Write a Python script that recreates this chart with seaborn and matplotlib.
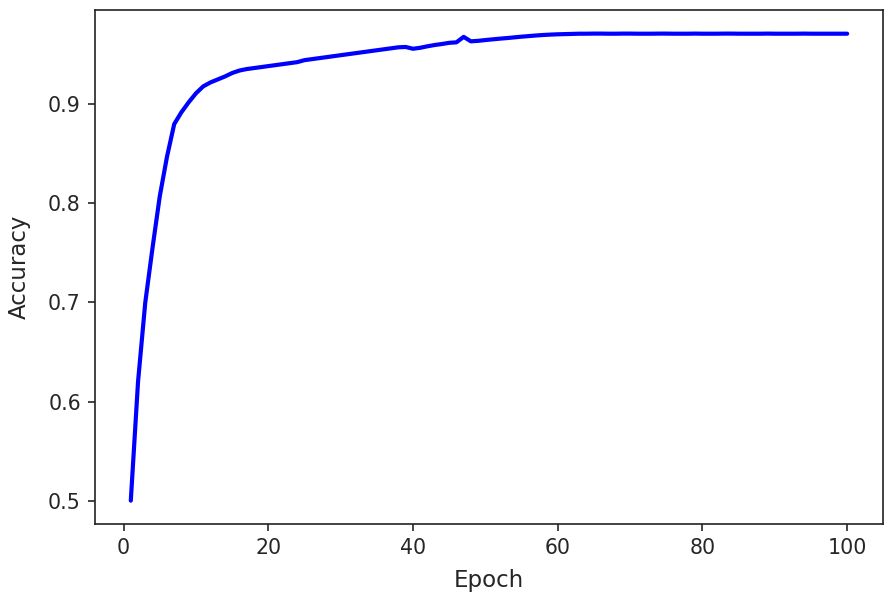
import numpy as np
import pandas as pd
import matplotlib
matplotlib.use('Agg')
import matplotlib.pyplot as plt
import seaborn as sns

# Accuracy per epoch
epochs = list(range(1, 101))
accuracy = [
    0.500, 0.620, 0.700, 0.755, 0.807, 0.847, 0.880, 0.892, 0.902, 0.911,
    0.918, 0.922, 0.925, 0.928, 0.9315, 0.934, 0.9355, 0.9365, 0.9375, 0.9385,
    0.9395, 0.9405, 0.9415, 0.9425, 0.9445, 0.9455, 0.9465, 0.9475, 0.9485, 0.9495,
    0.9505, 0.9515, 0.9525, 0.9535, 0.9545, 0.9555, 0.9565, 0.9575, 0.9578, 0.9560,
    0.9570, 0.9585, 0.9598, 0.9608, 0.9620, 0.9625, 0.9680, 0.9635, 0.9640, 0.9648,
    0.9655, 0.9662, 0.9668, 0.9675, 0.9682, 0.9688, 0.9694, 0.9699, 0.9703, 0.9706,
    0.9708, 0.9710, 0.9712, 0.9712, 0.9713, 0.9713, 0.9712, 0.9712, 0.9713, 0.9713,
    0.9712, 0.9712, 0.9712, 0.9713, 0.9713, 0.9712, 0.9712, 0.9712, 0.9713, 0.9712,
    0.9712, 0.9712, 0.9713, 0.9713, 0.9712, 0.9712, 0.9712, 0.9712, 0.9713, 0.9712,
    0.9712, 0.9712, 0.9712, 0.9713, 0.9712, 0.9712, 0.9712, 0.9712, 0.9712, 0.9712,
]

df = pd.DataFrame({'Epoch': epochs, 'Accuracy': accuracy})

sns.set_style('ticks')
plt.rcParams['font.family'] = ['DejaVu Sans']
plt.rcParams['font.size'] = 14.5
plt.rcParams['axes.linewidth'] = 1.2
plt.rcParams['xtick.major.size'] = 5.2
plt.rcParams['ytick.major.size'] = 5.2
plt.rcParams['xtick.major.width'] = 1.2
plt.rcParams['ytick.major.width'] = 1.2
plt.rcParams['xtick.major.pad'] = 5
plt.rcParams['ytick.major.pad'] = 5
plt.rcParams['text.color'] = '#262626'

fig = plt.figure(figsize=(8.91, 6.03), dpi=100)
ax = fig.add_axes([0.1066, 0.131, 0.8844, 0.852])

sns.lineplot(data=df, x='Epoch', y='Accuracy', color='blue', linewidth=3.0, ax=ax)

ax.set_xticks([0, 20, 40, 60, 80, 100])
ax.set_yticks([0.5, 0.6, 0.7, 0.8, 0.9])
ax.tick_params(labelsize=14.8, colors='#262626')
for s in ax.spines.values():
    s.set_color('#222222')
ax.set_xlabel('Epoch', fontsize=16.5, labelpad=8)
ax.set_ylabel('Accuracy', fontsize=16.5, labelpad=12)

fig.savefig('out.png', dpi=100)
